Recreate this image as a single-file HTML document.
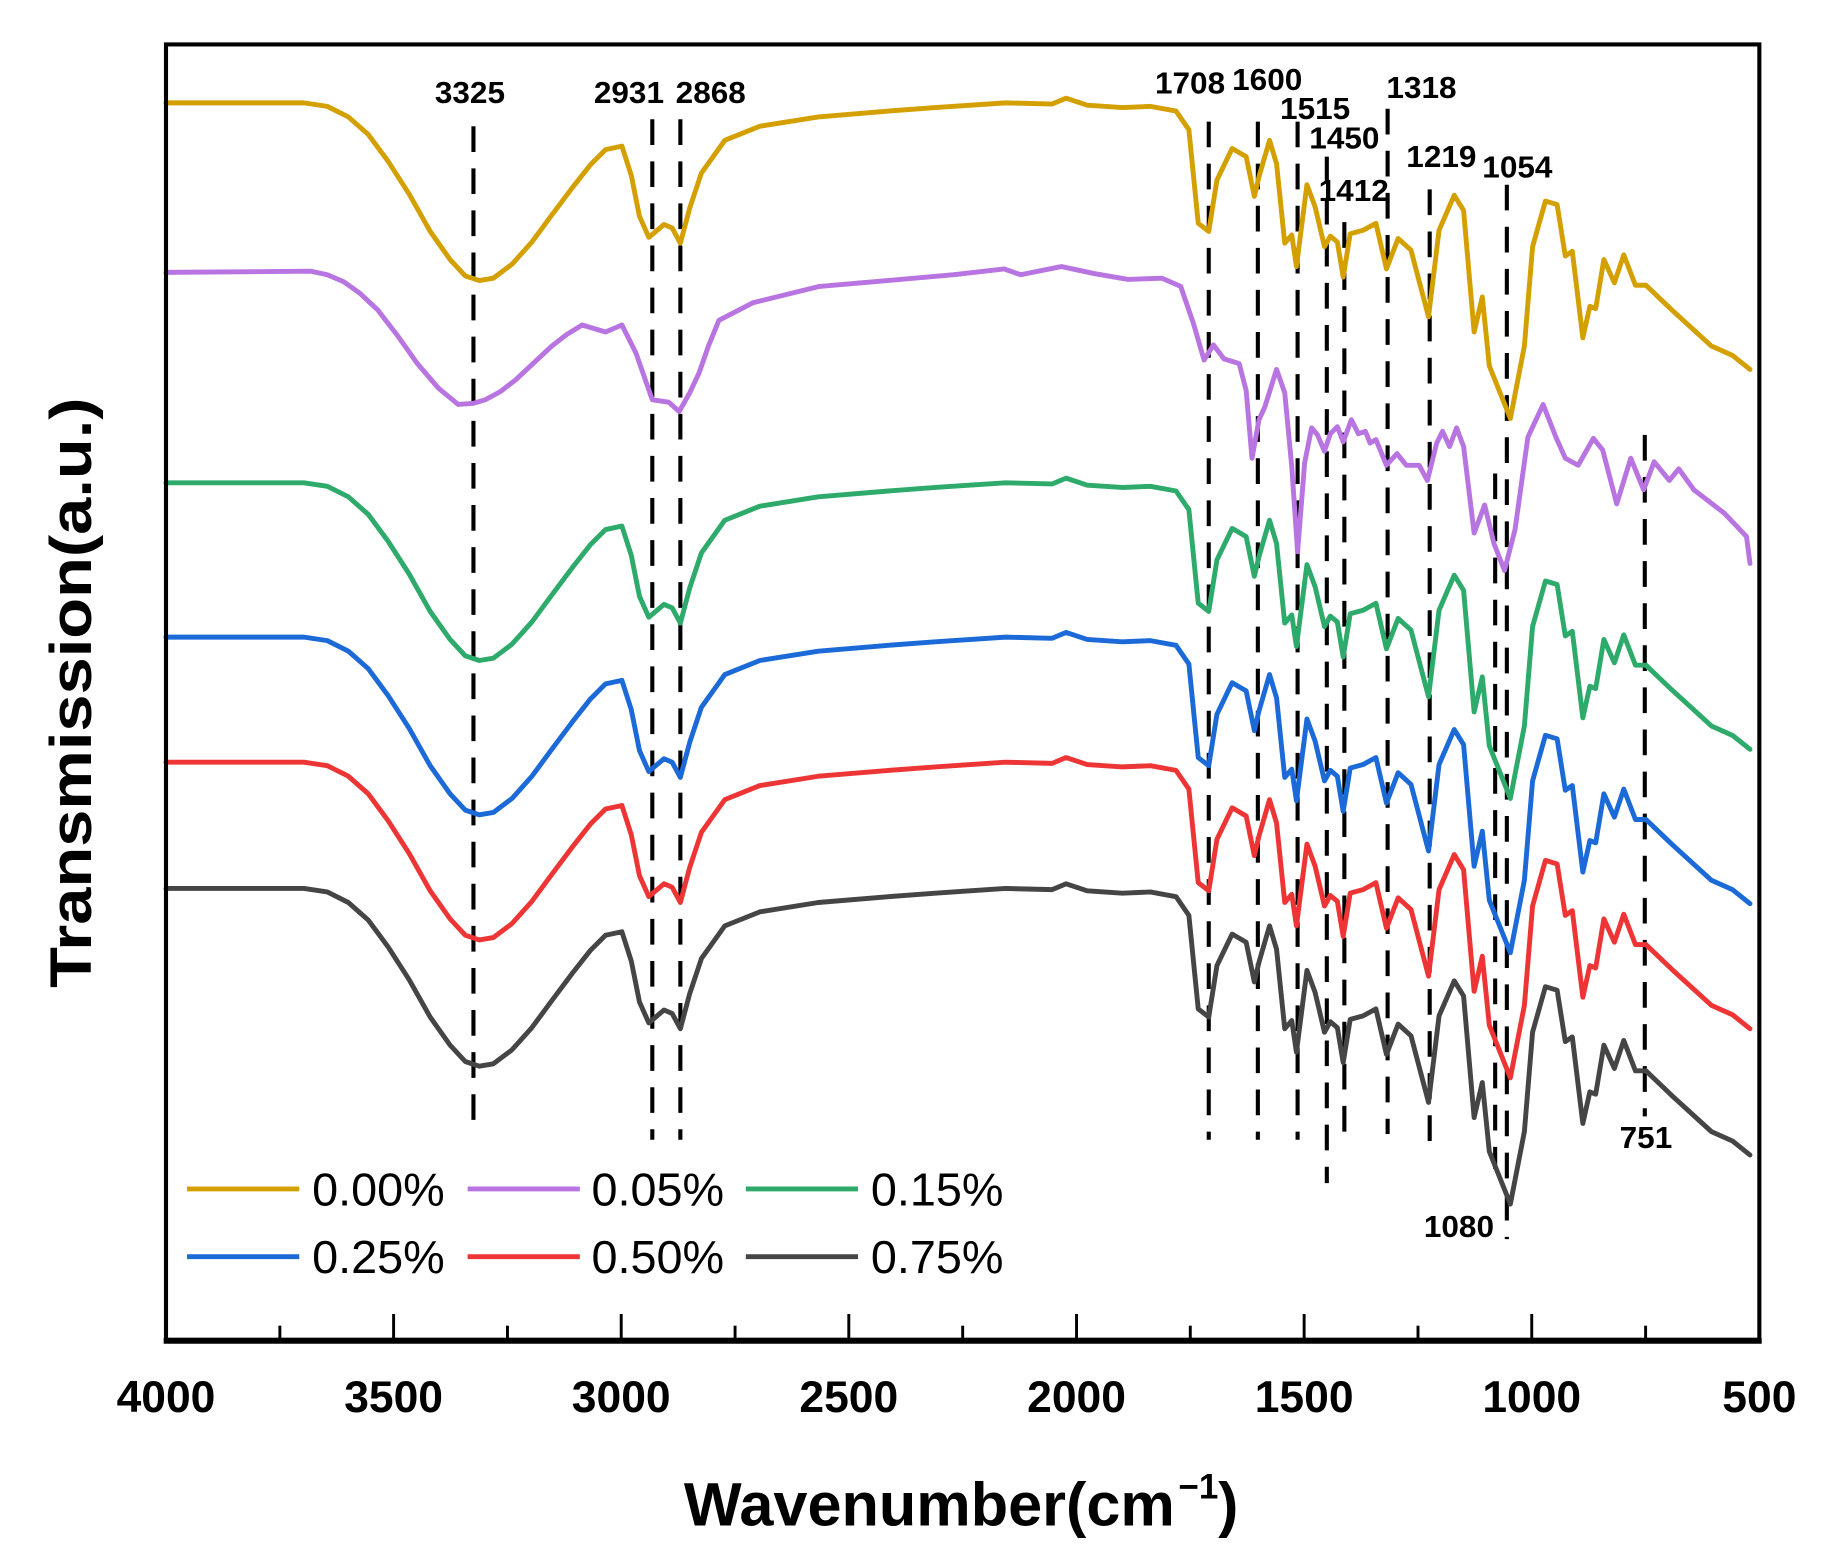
<!DOCTYPE html>
<html><head><meta charset="utf-8"><style>html,body{margin:0;padding:0;background:#fff}svg{display:block}</style></head>
<body>
<svg width="1833" height="1563" viewBox="0 0 1568 1337" preserveAspectRatio="none" xmlns="http://www.w3.org/2000/svg">
<defs>
<polyline id="s" fill="none" stroke-width="4.2" stroke-linejoin="round" stroke-linecap="round" points="142,88 260,88 280,91 298,100 315,115 332,138 350,166 368,198 385,222 398,236 410,240 422,238 438,226 455,207 472,184 490,160 505,141 518,128 532,125 540,150 547,185 555,203 568,192 575,195 582,208 590,178 600,148 620,120 650,108 700,100 760,95 800,92 860,88 900,89 912,84 930,90 960,92 984,91 1006,95 1017,111 1025,191 1034,198 1041,154 1054,127 1066,134 1073,168 1077,151 1086,120 1092,140 1099,208 1105,201 1109,228 1118,158 1125,177 1133,211 1138,202 1144,207 1149,237 1155,200 1166,197 1177,191 1186,230 1196,204 1207,214 1222,271 1231,197 1244,167 1252,180 1261,284 1268,254 1274,313 1292,358 1304,296 1311,211 1322,172 1332,175 1339,219 1345,215 1354,289 1360,262 1365,264 1372,222 1381,242 1389,218 1399,244 1408,244 1430,265 1464,296 1482,304 1497,316"/>
</defs>
<g font-family="'Liberation Sans', Arial, sans-serif" font-weight="bold">
<g stroke="#000" stroke-width="3.5" stroke-dasharray="22,14">
<line x1="405" y1="108" x2="405" y2="968"/>
<line x1="558" y1="102" x2="558" y2="975"/>
<line x1="582" y1="102" x2="582" y2="975"/>
<line x1="1034" y1="104" x2="1034" y2="975"/>
<line x1="1076" y1="104" x2="1076" y2="975"/>
<line x1="1110" y1="104" x2="1110" y2="975"/>
<line x1="1135" y1="134" x2="1135" y2="1012"/>
<line x1="1150" y1="190" x2="1150" y2="975"/>
<line x1="1187" y1="93" x2="1187" y2="970"/>
<line x1="1223" y1="162" x2="1223" y2="982"/>
<line x1="1289" y1="158" x2="1289" y2="1060"/>
<line x1="1279" y1="405" x2="1279" y2="1000"/>
<line x1="1407" y1="372" x2="1407" y2="955"/>
</g>
<use href="#s" stroke="#D4A000"/>
<use href="#s" stroke="#2EAA6B" transform="translate(0,325)"/>
<use href="#s" stroke="#1B6AD8" transform="translate(0,457)"/>
<use href="#s" stroke="#EE3535" transform="translate(0,564)"/>
<use href="#s" stroke="#454545" transform="translate(0,672)"/>
<polyline fill="none" stroke="#B874E0" stroke-width="4.2" stroke-linejoin="round" stroke-linecap="round" points="142,233 266,232 280,235 294,241 308,251 323,265 340,287 357,311 375,332 392,346 405,345 415,342 428,335 441,325 457,310 472,296 485,286 498,278 518,284 532,278 544,302 558,342 572,344 581,352 590,336 598,319 606,296 615,274 644,259 701,245 759,240 816,235 859,230 873,235 908,228 936,234 965,239 994,238 1010,245 1021,277 1030,308 1038,295 1047,307 1060,311 1066,334 1071,392 1077,359 1082,348 1092,316 1099,336 1105,399 1110,472 1116,396 1122,366 1127,372 1133,386 1138,371 1144,365 1149,378 1156,359 1162,371 1168,369 1172,379 1177,376 1186,398 1195,388 1203,398 1214,398 1221,411 1229,379 1234,369 1240,382 1246,366 1252,382 1261,456 1270,432 1278,465 1287,488 1296,453 1307,374 1320,346 1331,374 1339,392 1350,398 1363,375 1371,385 1383,431 1395,392 1406,419 1415,395 1428,411 1436,401 1449,419 1475,439 1494,459 1497,482"/>
<g font-size="26" text-anchor="middle" fill="#000">
<text x="402" y="88" textLength="60" lengthAdjust="spacingAndGlyphs">3325</text>
<text x="538" y="88" textLength="60" lengthAdjust="spacingAndGlyphs">2931</text>
<text x="608" y="88" textLength="60" lengthAdjust="spacingAndGlyphs">2868</text>
<text x="1018" y="80" textLength="60" lengthAdjust="spacingAndGlyphs">1708</text>
<text x="1084" y="77" textLength="60" lengthAdjust="spacingAndGlyphs">1600</text>
<text x="1125" y="102" textLength="60" lengthAdjust="spacingAndGlyphs">1515</text>
<text x="1150" y="127" textLength="60" lengthAdjust="spacingAndGlyphs">1450</text>
<text x="1158" y="172" textLength="60" lengthAdjust="spacingAndGlyphs">1412</text>
<text x="1216" y="84" textLength="60" lengthAdjust="spacingAndGlyphs">1318</text>
<text x="1233" y="143" textLength="60" lengthAdjust="spacingAndGlyphs">1219</text>
<text x="1298" y="152" textLength="60" lengthAdjust="spacingAndGlyphs">1054</text>
<text x="1248" y="1058" textLength="60" lengthAdjust="spacingAndGlyphs">1080</text>
<text x="1408" y="982" textLength="45" lengthAdjust="spacingAndGlyphs">751</text>
</g>
<g stroke-width="4.2">
<line x1="160" y1="1017" x2="256" y2="1017" stroke="#D4A000"/>
<line x1="400" y1="1017" x2="496" y2="1017" stroke="#B874E0"/>
<line x1="638" y1="1017" x2="734" y2="1017" stroke="#2EAA6B"/>
<line x1="160" y1="1075" x2="256" y2="1075" stroke="#1B6AD8"/>
<line x1="400" y1="1075" x2="496" y2="1075" stroke="#EE3535"/>
<line x1="638" y1="1075" x2="734" y2="1075" stroke="#454545"/>
</g>
<g font-size="40" font-weight="normal" fill="#000">
<text x="267" y="1031">0.00%</text>
<text x="506" y="1031">0.05%</text>
<text x="745" y="1031">0.15%</text>
<text x="267" y="1089">0.25%</text>
<text x="506" y="1089">0.50%</text>
<text x="745" y="1089">0.75%</text>
</g>
<rect x="142" y="38" width="1363" height="1108" fill="none" stroke="#000" stroke-width="3.5"/>
<g stroke="#000" stroke-width="2.5">
<line x1="336.7" y1="1146" x2="336.7" y2="1124"/>
<line x1="531.4" y1="1146" x2="531.4" y2="1124"/>
<line x1="726.1" y1="1146" x2="726.1" y2="1124"/>
<line x1="920.9" y1="1146" x2="920.9" y2="1124"/>
<line x1="1115.6" y1="1146" x2="1115.6" y2="1124"/>
<line x1="1310.3" y1="1146" x2="1310.3" y2="1124"/>
<line x1="239.4" y1="1146" x2="239.4" y2="1134"/>
<line x1="434.1" y1="1146" x2="434.1" y2="1134"/>
<line x1="628.8" y1="1146" x2="628.8" y2="1134"/>
<line x1="823.5" y1="1146" x2="823.5" y2="1134"/>
<line x1="1018.2" y1="1146" x2="1018.2" y2="1134"/>
<line x1="1213" y1="1146" x2="1213" y2="1134"/>
<line x1="1407.7" y1="1146" x2="1407.7" y2="1134"/>
</g>
<line x1="140" y1="1147" x2="1507" y2="1147" stroke="#000" stroke-width="5"/>
<g font-size="38" text-anchor="middle" fill="#000">
<text x="142" y="1208">4000</text>
<text x="336.7" y="1208">3500</text>
<text x="531.4" y="1208">3000</text>
<text x="726.1" y="1208">2500</text>
<text x="920.9" y="1208">2000</text>
<text x="1115.6" y="1208">1500</text>
<text x="1310.3" y="1208">1000</text>
<text x="1505" y="1208">500</text>
</g>
<text x="585" y="1305" font-size="52" textLength="420" lengthAdjust="spacingAndGlyphs">Wavenumber(cm</text>
<text x="1008" y="1282" font-size="30">−1</text>
<text x="1042" y="1305" font-size="52">)</text>
<text transform="translate(78,845) rotate(-90)" font-size="50" textLength="505" lengthAdjust="spacingAndGlyphs">Transmission(a.u.)</text>
</g>
</svg>
</body></html>
